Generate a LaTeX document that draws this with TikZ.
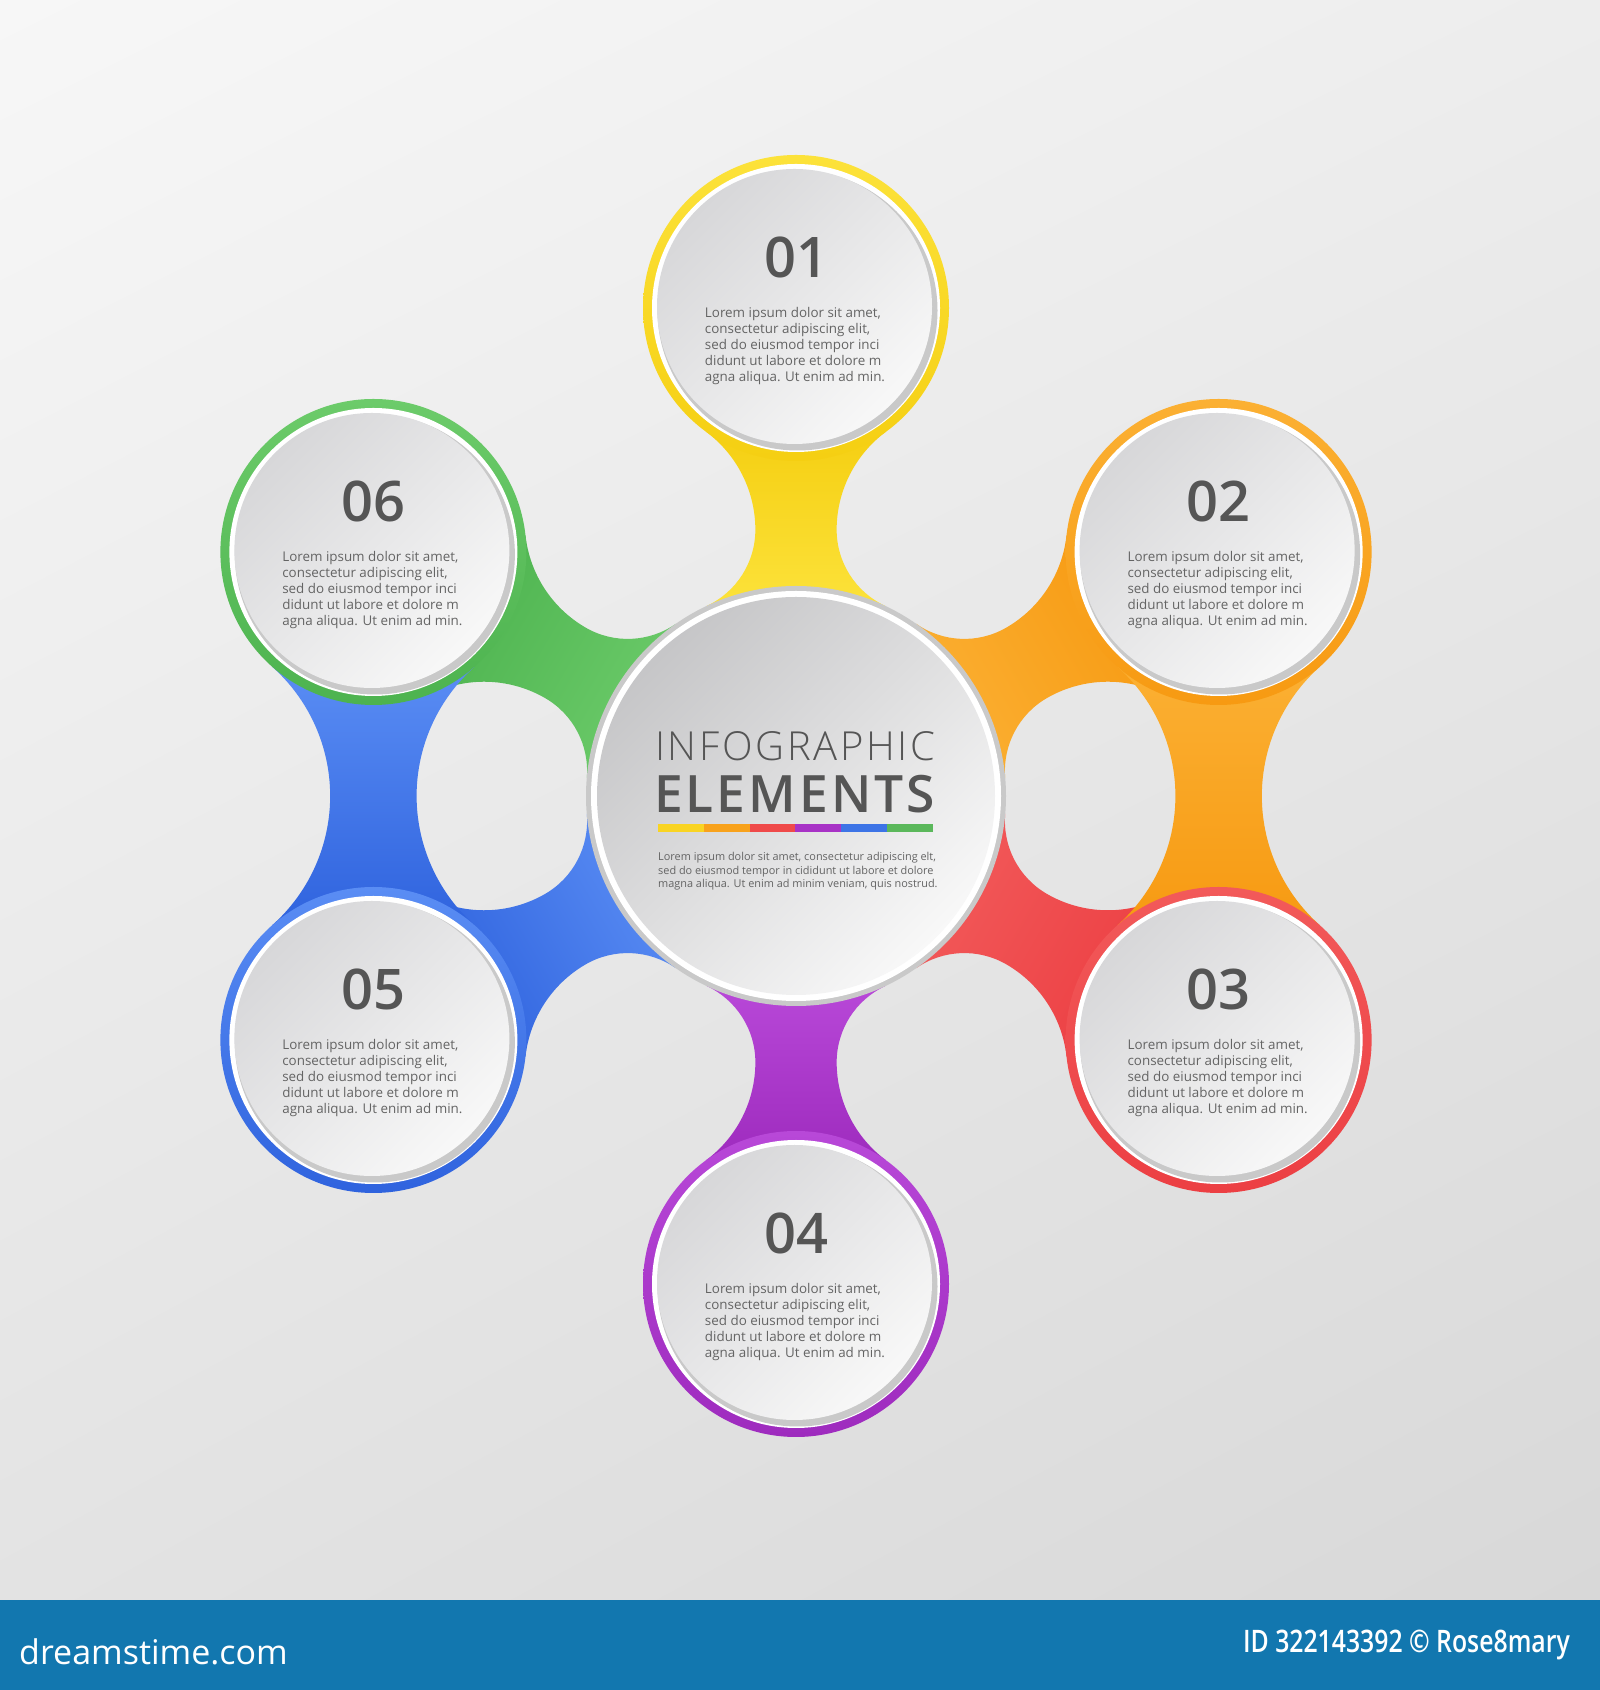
\documentclass[tikz,border=0pt]{standalone}
\usepackage{fontspec}
\setmainfont{Open Sans}
\IfFontExistsTF{Open Sans Light}{\newfontfamily\oslight{Open Sans Light}}{\newfontfamily\oslight{Open Sans}}
\IfFontExistsTF{Open Sans Semibold}{\newfontfamily\ossemi{Open Sans Semibold}}{%
  \IfFontExistsTF{Open Sans SemiBold}{\newfontfamily\ossemi{Open Sans SemiBold}}{\newfontfamily\ossemi{Open Sans}[FakeBold=1.6]}}
\usetikzlibrary{calc,shadings}
\definecolor{ylwL}{HTML}{FCE23A}
\definecolor{ylwD}{HTML}{F5CF12}
\definecolor{orgL}{HTML}{FBB033}
\definecolor{orgD}{HTML}{F79A12}
\definecolor{redL}{HTML}{F25A5A}
\definecolor{redD}{HTML}{EC3F43}
\definecolor{purL}{HTML}{B848D8}
\definecolor{purD}{HTML}{9E2BBE}
\definecolor{bluL}{HTML}{5A8DF4}
\definecolor{bluD}{HTML}{2F63DE}
\definecolor{grnL}{HTML}{6CCB6A}
\definecolor{grnD}{HTML}{4DB34F}
\definecolor{numgray}{HTML}{555555}
\definecolor{bodygray}{HTML}{646464}
\definecolor{rimgray}{HTML}{C9C9C9}
\definecolor{diskA}{HTML}{D7D7D9}
\definecolor{diskB}{HTML}{F8F8F8}
\definecolor{barblue}{HTML}{1277AF}
\definecolor{bgUL}{HTML}{F7F7F7}
\definecolor{bgUR}{HTML}{EDEDED}
\definecolor{bgLL}{HTML}{E3E3E3}
\definecolor{bgLR}{HTML}{D8D8D8}
\definecolor{segY}{HTML}{F9D423}
\definecolor{segO}{HTML}{F8A21C}
\definecolor{segR}{HTML}{EF4A4A}
\definecolor{segP}{HTML}{A833C6}
\definecolor{segB}{HTML}{3D74E6}
\definecolor{segG}{HTML}{5BB85B}

\newcommand\lorem{Lorem ipsum dolor sit amet,\\consectetur adipiscing elit,\\sed do eiusmod tempor inci\\didunt ut labore et dolore m\\agna aliqua. Ut enim ad min.}

% letter-spaced text to a given width
\newlength\trk
\newcommand\tracked[3]{\settowidth\trk{#3}\setlength\trk{\dimexpr(#1-\trk)/#2\relax}\trkloop#3\relax}
\def\trkloop#1{\ifx#1\relax\else #1\kern\trk\expandafter\trkloop\fi}

% neck between centre C and an outer circle at angle #1
\newcommand\cneck[3]{%
  \pgfmathsetmacro\shang{#1+90}%
  \shade[top color=#2, bottom color=#3, shading angle=\shang]
    ($(C)+({#1-25.08}:210)$)
    arc[start angle={#1+154.92}, end angle={#1+90}, radius=83.97]
    arc[start angle={#1+90}, end angle={#1+36.26}, radius=122]
    -- ($(C)+(#1:266.25)+({#1+90}:162.65)+({#1+323.74}:122)$)
    arc[start angle={#1+323.74}, end angle={#1+270}, radius=122]
    arc[start angle={#1+270}, end angle={#1+205.08}, radius=83.97] -- cycle;}

% neck between two outer circles #1 and #2, direction #3
\newcommand\oneck[5]{%
  \coordinate (M) at ($(#1)!0.5!(#2)$);
  \shade[top color=#4, bottom color=#5]
    ($(M)+({#3-90}:216.2)+({#3+138.46}:173)$)
    arc[start angle={#3+138.46}, end angle={#3+41.54}, radius=173]
    -- ($(M)+({#3+90}:216.2)+({#3+318.46}:173)$)
    arc[start angle={#3+318.46}, end angle={#3+221.54}, radius=173] -- cycle;}

\newcommand\ocirc[4]{%
  \shade[top color=#2, bottom color=#3] (#1) circle[radius=153];
  \fill[white] (#1) circle[radius=144];
  \fill[rimgray] ($(#1)+(1.5,-2.5)$) circle[radius=140];
  \shade[top color=diskA, bottom color=diskB, shading angle=45] ($(#1)+(-1.5,1.5)$) circle[radius=137.5];
  \node[numtxt, anchor=base] (n#1) at ($(#1)+(0,30)$) {#4};
  \node[bodytxt] (t#1) at ($(#1)+(-1,-38)$) {\lorem};}

\tikzset{
  numtxt/.style={font=\ossemi\fontsize{56}{56}\selectfont, text=numgray, inner sep=0pt},
  bodytxt/.style={font=\fontsize{13.4}{16.2}\selectfont, text=bodygray, align=left, inner sep=0pt},
}

\begin{document}
\begin{tikzpicture}[x=1pt,y=1pt]
\useasboundingbox (0,0) rectangle (1600,1690);
\shade[upper left=bgUL, upper right=bgUR, lower left=bgLL, lower right=bgLR] (0,90) rectangle (1600,1690);
\fill[barblue] (0,0) rectangle (1600,90);

\coordinate (C) at (796,894);
\coordinate (c1) at ($(C)+(90:488)$);
\coordinate (c2) at ($(C)+(30:488)$);
\coordinate (c3) at ($(C)+(-30:488)$);
\coordinate (c4) at ($(C)+(-90:488)$);
\coordinate (c5) at ($(C)+(-150:488)$);
\coordinate (c6) at ($(C)+(150:488)$);

% necks to the centre
\cneck{90}{ylwL}{ylwD}
\cneck{30}{orgL}{orgD}
\cneck{-30}{redL}{redD}
\cneck{-90}{purL}{purD}
\cneck{-150}{bluL}{bluD}
\cneck{150}{grnL}{grnD}
% necks between outer circles
\oneck{c2}{c3}{-90}{orgL}{orgD}
\oneck{c6}{c5}{-90}{bluL}{bluD}

% outer circles
\ocirc{c1}{ylwL}{ylwD}{01}
\ocirc{c2}{orgL}{orgD}{02}
\ocirc{c3}{redL}{redD}{03}
\ocirc{c4}{purL}{purD}{04}
\ocirc{c5}{bluL}{bluD}{05}
\ocirc{c6}{grnL}{grnD}{06}

% centre circle
\fill[rimgray] (C) circle[radius=210];
\fill[white] (C) circle[radius=205];
\shade[top color=diskA!92!black, bottom color=diskB, shading angle=45] (C) circle[radius=199];

\node[anchor=base west, inner sep=0pt, text=numgray, font=\oslight\fontsize{40}{40}\selectfont] (title1) at (655,929) {\tracked{283pt}{11}{INFOGRAPHIC}};
\node[anchor=base west, inner sep=0pt, text=numgray, font=\ossemi\fontsize{51.5}{51.5}\selectfont] (title2) at (654,877) {\tracked{284pt}{8}{ELEMENTS}};
\foreach \i/\c in {0/segY,1/segO,2/segR,3/segP,4/segB,5/segG}
  \fill[\c] (658+\i*45.8,858) rectangle (658+\i*45.8+45.8,866);
\node[anchor=west, inner sep=0pt, text=bodygray, align=left, font=\fontsize{10.9}{13.4}\selectfont] (ctext) at (658,818.5)
  {Lorem ipsum dolor sit amet, consectetur adipiscing elt,\\sed do eiusmod tempor in cididunt ut labore et dolore\\magna aliqua. Ut enim ad minim veniam, quis nostrud.};

% footer
\node[anchor=west, inner sep=0pt, text=white, font=\fontsize{34}{34}\selectfont] (logo) at (19,38) {dreamstime.com};
\node[anchor=east, inner sep=0pt, text=white, font=\ossemi\fontsize{31}{31}\selectfont] (credit) at (1570,45) {\scalebox{0.8}[1]{ID 322143392 © Rose8mary}};
\end{tikzpicture}
\end{document}
